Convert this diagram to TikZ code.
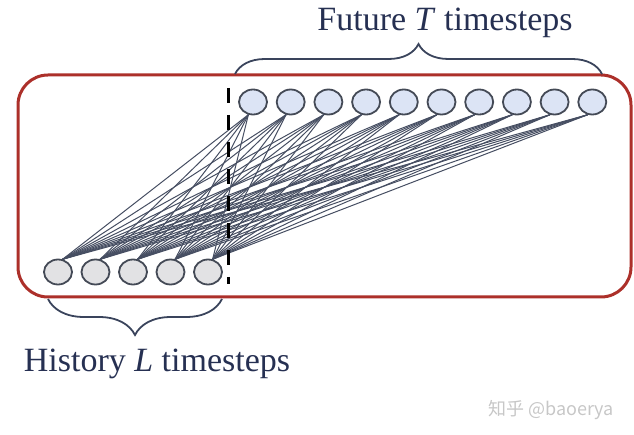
\documentclass[tikz,border=0pt]{standalone}
\usepackage{fontspec}
\setmainfont{Liberation Serif}
\newfontfamily\cjk{Noto Sans CJK SC}
\usepackage{xcolor}
\usetikzlibrary{shapes.geometric,decorations.pathreplacing}
\definecolor{frame}{RGB}{172,48,42}
\definecolor{ink}{RGB}{38,48,82}
\definecolor{rim}{RGB}{68,74,86}
\definecolor{futfill}{RGB}{220,228,245}
\definecolor{histfill}{RGB}{226,226,228}
\definecolor{wire}{RGB}{70,78,98}
\definecolor{bracecol}{RGB}{58,68,92}

\begin{document}
\begin{tikzpicture}[
  x=1pt, y=-1pt,
  step node/.style={ellipse, draw=rim, line width=1.8pt, minimum width=28pt, minimum height=25pt, inner sep=0pt},
  fut/.style={step node, fill=futfill},
  hist/.style={step node, fill=histfill},
  wirelink/.style={draw=wire, line width=1pt},
  curly/.style={decorate, draw=bracecol, line width=1.8pt},
  caption/.style={font=\fontsize{34}{38}\selectfont, text=ink, inner sep=0pt}
]
\useasboundingbox (0,0) rectangle (634,435);

% outer frame
\draw[frame, line width=3pt, rounded corners=30pt] (18,75) rectangle (631,297);

% time steps
\foreach \i in {1,...,10}
  \node[fut] (f\i) at ({253+37.7*(\i-1)},102) {};
\foreach \i in {1,...,5}
  \node[hist] (h\i) at ({58+37.5*(\i-1)},272) {};

% every history step feeds every future step
\foreach \i in {1,...,5}
  \foreach \j in {1,...,10}
    \draw[wirelink] (h\i.70) -- (f\j.250);

% split between history and future
\coordinate (cuttop) at (228,88);
\coordinate (cutbot) at (228,284);
\draw[black, line width=3pt, dash pattern=on 15pt off 12pt] (cuttop) -- (cutbot);

% braces
\coordinate (fl) at (235,74);
\coordinate (fr) at (602,74);
\draw[curly, decoration={brace, amplitude=30pt}] (fl) -- (fr);
\coordinate (hl) at (48,299);
\coordinate (hr) at (222,299);
\draw[curly, decoration={brace, amplitude=36pt}] (hr) -- (hl);

\node[caption, anchor=base] (futlabel) at (445,31) {Future \textit{T} timesteps};
\node[caption, anchor=base] (histlabel) at (157,371) {History \textit{L} timesteps};

\node[font=\cjk\fontsize{18}{20}\selectfont, text=black!22, anchor=base] (mark) at (551,415) {知乎 @baoerya};
\end{tikzpicture}
\end{document}
